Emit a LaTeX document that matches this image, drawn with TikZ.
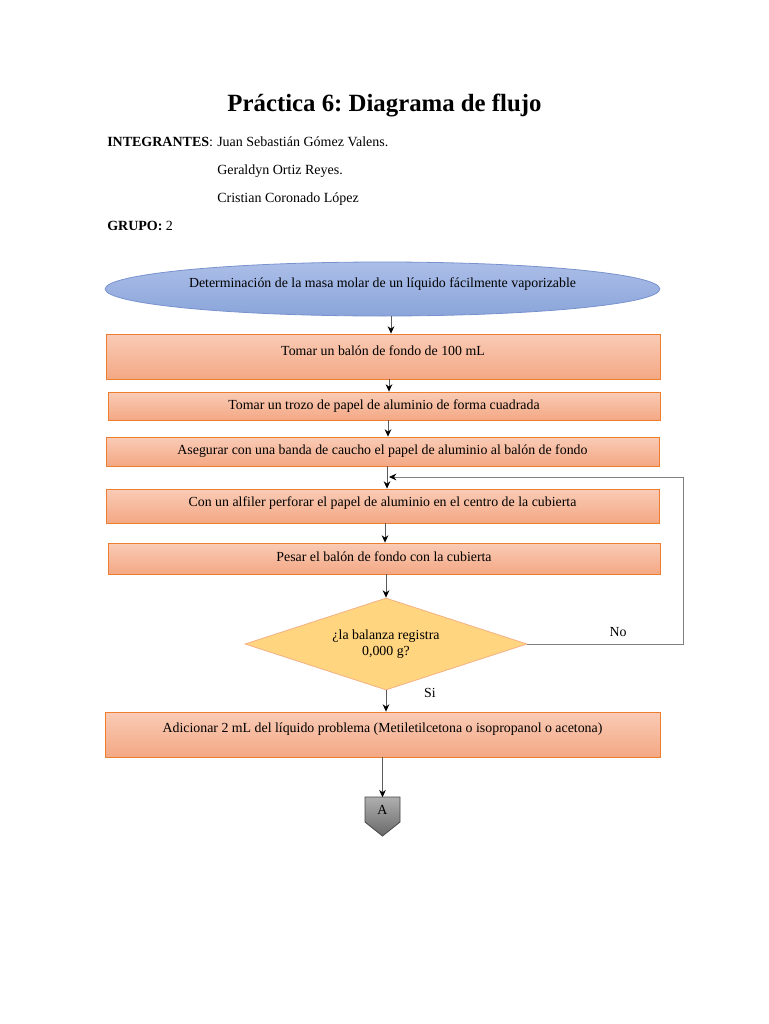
\documentclass[tikz,border=0pt]{standalone}
\usepackage{fontspec}
\setmainfont{Liberation Serif}
\frenchspacing
\usetikzlibrary{shapes.geometric,arrows.meta,calc}
\definecolor{boxtop}{RGB}{249,203,182}
\definecolor{boxbot}{RGB}{244,168,132}
\definecolor{boxline}{RGB}{237,125,49}
\definecolor{elltop}{RGB}{172,190,232}
\definecolor{ellbot}{RGB}{138,165,218}
\definecolor{ellline}{RGB}{120,146,206}
\definecolor{diafill}{RGB}{255,213,128}
\definecolor{dialine}{RGB}{244,177,131}
\definecolor{contop}{RGB}{175,175,175}
\definecolor{conbot}{RGB}{105,105,105}
\definecolor{conline}{RGB}{70,70,70}
\definecolor{linegray}{RGB}{90,90,90}
\tikzset{
  stepbox/.style={rectangle, draw=boxline, line width=0.6pt, top color=boxtop, bottom color=boxbot, inner sep=0pt},
  txt/.style={font=\fontsize{10.4}{12}\selectfont, inner sep=0pt, align=center},
  hdr/.style={font=\fontsize{10.5}{12}\selectfont, inner sep=0pt, anchor=base west},
  arr/.style={draw=linegray, line width=0.6pt, -{Stealth[length=5.5pt,width=5pt,color=black]}},
  lbl/.style={font=\fontsize{10.4}{12}\selectfont, inner sep=0pt}
}
\begin{document}
\begin{tikzpicture}[x=0.75pt,y=-0.75pt]
\useasboundingbox[fill=white] (0,0) rectangle (768,1024);
% header
\node[font=\bfseries\fontsize{18.6}{22}\selectfont, inner sep=0pt] (title) at (384.5,106) {Práctica 6: Diagrama de flujo};
\node[hdr] (integ) at (107,146) {\textbf{INTEGRANTES}:};
\node[hdr] (n1) at (217,146) {Juan Sebastián Gómez Valens.};
\node[hdr] (n2) at (217,174) {Geraldyn Ortiz Reyes.};
\node[hdr] (n3) at (217,202) {Cristian Coronado López};
\node[hdr] (grupo) at (107,230) {\textbf{GRUPO:} 2};
% start ellipse
\node[ellipse, draw=ellline, line width=0.6pt, top color=elltop, bottom color=ellbot, minimum width=416pt, minimum height=40.5pt, inner sep=0pt] (start) at (382.5,289) {};
\node[txt] (startt) at ($(start.center)+(0,-5)$) {Determinación de la masa molar de un líquido fácilmente vaporizable};
% boxes
\node[stepbox, minimum width=415.5pt, minimum height=33.75pt] (b1) at (383,356.5) {};
\node[txt] (b1t) at ($(b1.center)+(0,-5.5)$) {Tomar un balón de fondo de 100 mL};
\node[stepbox, minimum width=414pt, minimum height=21pt] (b2) at (384,406) {};
\node[txt] (b2t) at (b2.center) {Tomar un trozo de papel de aluminio de forma cuadrada};
\node[stepbox, minimum width=414.75pt, minimum height=21.75pt] (b3) at (382.5,451.5) {};
\node[txt] (b3t) at (b3.center) {Asegurar con una banda de caucho el papel de aluminio al balón de fondo};
\node[stepbox, minimum width=414.75pt, minimum height=25.5pt] (b4) at (382.5,506) {};
\node[txt] (b4t) at ($(b4.center)+(0,-3)$) {Con un alfiler perforar el papel de aluminio en el centro de la cubierta};
\node[stepbox, minimum width=414pt, minimum height=23.25pt] (b5) at (384,558.5) {};
\node[txt] (b5t) at ($(b5.center)+(0,-1.5)$) {Pesar el balón de fondo con la cubierta};
% decision
\node[diamond, draw=dialine, line width=0.6pt, fill=diafill, minimum width=211.5pt, minimum height=69pt, inner sep=0pt] (dec) at (386,644) {};
\node[txt] (dect) at (dec.center) {¿la balanza registra\\0,000 g?};
% last box
\node[stepbox, minimum width=416.25pt, minimum height=33.75pt] (b6) at (382.5,734.5) {};
\node[txt] (b6t) at ($(b6.center)+(0,-5.5)$) {Adicionar 2 mL del líquido problema (Metiletilcetona o isopropanol o acetona)};
% off-page connector
\path[draw=conline, line width=0.6pt, top color=contop, bottom color=conbot] (365,797) -- (400,797) -- (400,822) -- (382.5,836) -- (365,822) -- cycle;
\node[lbl, minimum width=26pt, minimum height=18pt] (conn) at (382.5,809.5) {A};
% connectors
\draw[arr] (start.south -| 391,0) -- (b1.north -| 391,0);
\draw[arr] (b1.south -| 389,0) -- (b2.north -| 389,0);
\draw[arr] (b2.south -| 388,0) -- (b3.north -| 388,0);
\draw[arr] (b3.south -| 387,0) -- (b4.north -| 387,0);
\draw[arr] (b4.south -| 385,0) -- (b5.north -| 385,0);
\draw[arr] (b5.south -| 386,0) -- (dec.north);
\draw[arr] (dec.south) -- (b6.north -| dec.south);
\draw[arr] (b6.south -| conn.north) -- (conn.north);
% feedback loop
\coordinate (rc) at (683,477);
\coordinate (j) at (389,477);
\draw[arr, draw=gray] (dec.east) -| (rc) -- (j);
\node[lbl] (no) at (618,632) {No};
\node[lbl] (si) at (430,693) {Si};
\end{tikzpicture}
\end{document}
